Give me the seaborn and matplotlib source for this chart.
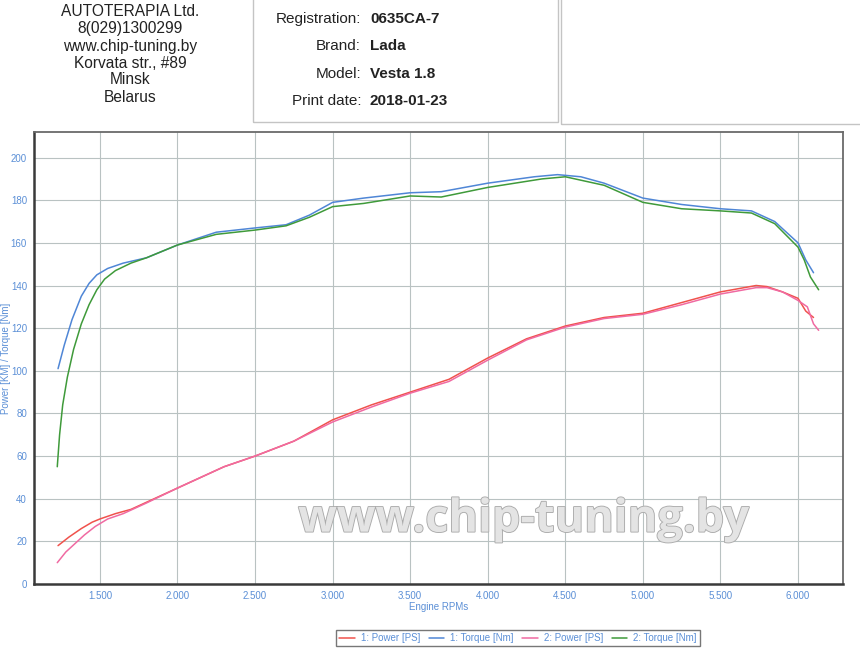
import pandas as pd
import matplotlib.pyplot as plt
import matplotlib.patheffects as pe
from matplotlib.ticker import MultipleLocator, FuncFormatter
from matplotlib.patches import Rectangle
from matplotlib.lines import Line2D
import seaborn as sns

plt.switch_backend('Agg')

# Run 1 - power / torque
rpm_t1 = [1230, 1270, 1320, 1380, 1430, 1480, 1550, 1650, 1800, 2000, 2250, 2500, 2700, 2850, 3000,
          3200, 3500, 3700, 4000, 4300, 4450, 4600, 4750, 5000, 5250, 5500, 5700, 5850, 6000, 6050, 6100]
torque_1 = [101, 112, 124, 135, 141, 145, 148, 150.5, 153, 159, 165, 167, 168.5, 173, 179,
            181, 183.5, 184, 188, 191, 192, 191, 188, 181, 178, 176, 175, 170, 160, 152, 146]
rpm_p1 = [1230, 1300, 1380, 1450, 1500, 1600, 1700, 2000, 2300, 2500, 2750, 3000, 3250, 3500, 3750,
          4000, 4250, 4500, 4750, 5000, 5250, 5500, 5730, 5800, 5900, 6000, 6050, 6100]
power_1 = [18, 22, 26, 29, 30.5, 33, 35, 45, 55, 60, 67, 77, 84, 90, 96,
           106, 115, 121, 125, 127, 132, 137, 140, 139.5, 137, 134, 128, 125]

# Run 2 - power / torque
rpm_t2 = [1225, 1240, 1260, 1290, 1330, 1380, 1430, 1480, 1530, 1600, 1700, 1800, 2000, 2250, 2500,
          2700, 2850, 3000, 3200, 3500, 3700, 4000, 4350, 4500, 4750, 5000, 5250, 5500, 5700, 5850,
          6000, 6040, 6080, 6133]
torque_2 = [55, 70, 84, 97, 110, 122, 131, 138, 143, 147, 150.5, 153, 159, 164, 166,
            168, 172, 177, 178.5, 182, 181.5, 186, 190, 191, 187, 179, 176, 175, 174, 169,
            158, 152, 144, 138]
rpm_p2 = [1225, 1280, 1340, 1400, 1470, 1550, 1650, 1800, 2000, 2300, 2500, 2750, 3000, 3250, 3500,
          3750, 4000, 4250, 4500, 4750, 5000, 5250, 5500, 5730, 5800, 5900, 6000, 6060, 6100, 6133]
power_2 = [10, 15, 19, 23, 27, 30.5, 33, 38, 45, 55, 60, 67, 76, 83, 89.5,
           95, 105, 114.5, 120.5, 124.5, 126.5, 131, 136, 139, 139, 137, 133, 130, 122, 119]

series_names = ['1: Power [PS]', '1: Torque [Nm]', '2: Power [PS]', '2: Torque [Nm]']
series_colors = ['#f0524c', '#4f86d6', '#f06aa2', '#3f9a3a']

frames = []
for name, xs, ys in zip(series_names, [rpm_p1, rpm_t1, rpm_p2, rpm_t2],
                        [power_1, torque_1, power_2, torque_2]):
    frames.append(pd.DataFrame({'rpm': xs, 'value': ys, 'series': name}))
data = pd.concat(frames, ignore_index=True)

sns.set_style('white')
plt.rcParams['font.family'] = ['Liberation Sans', 'DejaVu Sans']

fig = plt.figure(figsize=(8.6, 6.51), dpi=100)
ax = fig.add_axes([34 / 860, 1 - 584 / 651, (843 - 34) / 860, (584 - 132) / 651])

sns.lineplot(data=data, x='rpm', y='value', hue='series', palette=series_colors,
             hue_order=series_names, estimator=None, sort=False, linewidth=1.1,
             legend=False, ax=ax)

ax.set_xlim(1075, 6290)
ax.set_ylim(0, 212)
ax.xaxis.set_major_locator(MultipleLocator(500))
ax.xaxis.set_minor_locator(MultipleLocator(100))
ax.yaxis.set_major_locator(MultipleLocator(20))
ax.yaxis.set_minor_locator(MultipleLocator(5))
ax.xaxis.set_major_formatter(FuncFormatter(lambda v, p: f"{v / 1000:.3f}"))
ax.grid(True, which='major', color='#b9c2c2', linewidth=0.8)
ax.tick_params(axis='both', which='major', labelsize=7, labelcolor='#5b8fd6',
               length=3, color='#555555', direction='out', pad=2)
ax.tick_params(axis='both', which='minor', length=2, color='#777777', direction='out')
for side in ['left', 'bottom']:
    ax.spines[side].set_color('#3a3a3a')
    ax.spines[side].set_linewidth(1.8)
for side in ['top', 'right']:
    ax.spines[side].set_color('#6a6a6a')
    ax.spines[side].set_linewidth(1.3)
ax.set_xlabel('Engine RPMs', fontsize=7, color='#5b8fd6', labelpad=1)
ax.set_ylabel('Power [KM] / Torque [Nm]', fontsize=7, color='#5b8fd6')
ax.yaxis.set_label_coords(-0.028, 0.5)

# watermark
fig.text(0.609, 0.201, 'www.chip-tuning.by', fontsize=32.5, fontweight='bold',
         family='Open Sans', color='#e4e4e4', ha='center', va='center',
         path_effects=[pe.withStroke(linewidth=1.3, foreground='#ababab')])

# header - company info
company = ['AUTOTERAPIA Ltd.', '8(029)1300299', 'www.chip-tuning.by',
           'Korvata str., #89', 'Minsk', 'Belarus']
for i, line in enumerate(company):
    fig.text(130 / 860, 1 - (12 + i * 17) / 651, line, fontsize=11.2,
             color='#222222', ha='center', va='center')

# header - vehicle info
labels = ['Registration:', 'Brand:', 'Model:', 'Print date:']
values = ['0635CA-7', 'Lada', 'Vesta 1.8', '2018-01-23']
for i, (lab, val) in enumerate(zip(labels, values)):
    yy = 1 - (19 + i * 27.3) / 651
    fig.text(361 / 860, yy, lab, fontsize=11, color='#222222', ha='right', va='center')
    fig.text(370 / 860, yy, val, fontsize=11, color='#222222', ha='left', va='center',
             fontweight='bold')

fig.patches.append(Rectangle((253 / 860, 1 - 122 / 651), 305 / 860, 122 / 651 + 0.01,
                             transform=fig.transFigure, fill=False,
                             edgecolor='#c4c4c4', linewidth=1))
fig.patches.append(Rectangle((561 / 860, 1 - 124 / 651), 300 / 860, 124 / 651 + 0.01,
                             transform=fig.transFigure, fill=False,
                             edgecolor='#c4c4c4', linewidth=1))

handles = [Line2D([0], [0], color=c, linewidth=1.1) for c in series_colors]
leg = fig.legend(handles, series_names, loc='center', bbox_to_anchor=(518 / 860, 1 - 638 / 651),
                 ncol=4, fontsize=7, frameon=True, fancybox=False, handlelength=1.6,
                 handletextpad=0.6, columnspacing=0.9, borderpad=0.35, labelcolor='#5b8fd6')
leg.get_frame().set_edgecolor('#555555')
leg.get_frame().set_linewidth(1.0)

fig.savefig('out.png', dpi=100)
plt.close(fig)
